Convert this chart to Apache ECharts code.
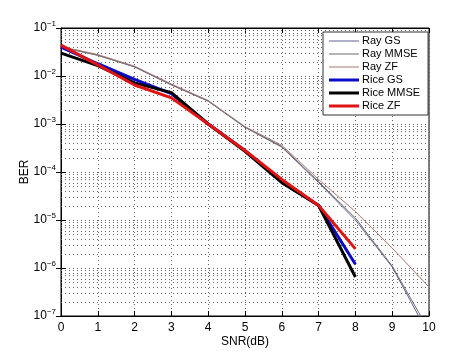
<!DOCTYPE html>
<html><head><meta charset="utf-8">
<script src="https://cdn.jsdelivr.net/npm/echarts@6/dist/echarts.min.js"></script>
<style>html,body{margin:0;padding:0;background:#fff}#c{width:474px;height:356px}</style>
</head><body><div id="c"></div>
<script>
const snr = [0,1,2,3,4,5,6,7,8,9,10];
const snrRice = [0,1,2,3,4,5,6,7,8];
const rayGS   = [0.040,0.027,0.0155,0.0065,0.0030,0.00085,0.00033,6.0e-5,1.0e-5,1.05e-6,4e-8];
const rayMMSE = [0.040,0.027,0.0155,0.0066,0.0030,0.00086,0.00034,6.3e-5,1.1e-5,1.1e-6,5e-8];
const rayZF   = [0.041,0.028,0.0160,0.0068,0.0031,0.00088,0.00036,7.0e-5,1.5e-5,2.6e-6,4e-7];
const riceGS   = [0.040,0.018,0.0085,0.0043,0.0010,0.00028,6.5e-5,2.0e-5,1.2e-6];
const riceMMSE = [0.030,0.0165,0.0072,0.0045,0.0010,0.00027,6.0e-5,2.0e-5,6.5e-7];
const riceZF   = [0.044,0.017,0.0065,0.0035,0.0010,0.00028,7.0e-5,2.0e-5,2.5e-6];
const seriesNames = ['Ray GS','Ray MMSE','Ray ZF','Rice GS','Rice MMSE','Rice ZF'];
const xTicks = [0,1,2,3,4,5,6,7,8,9,10];
const yDecades = [-7,-6,-5,-4,-3,-2,-1];

const minorLines = [];
for (const d of yDecades.slice(0,-1)) for (let m=2;m<=9;m++) minorLines.push(m*Math.pow(10,d));

const font = 'Liberation Sans, Arial, sans-serif';
function pair(xs, ys){ return xs.map((x,i)=>[x, ys[i]]); }
const mk = (name, xs, ys, color, w) => ({
  name, type:'line', data: pair(xs, ys), symbol:'none', showSymbol:false,
  lineStyle:{color, width:w}, itemStyle:{color}, animation:false, clip:true, z:5
});
const thinIcon  = 'path://M0 0H0.01V12H0Z M0 5.5H30V6.5H0Z';
const thickIcon = 'path://M0 0H0.01V12H0Z M0 4.5H30V7.5H0Z';

const chart = echarts.init(document.getElementById('c'), null, {renderer:'canvas'});
chart.setOption({
  backgroundColor:'#fff',
  animation:false,
  grid:{left:61, right:45, top:28, bottom:40, show:true, borderColor:'#000', borderWidth:1},
  legend:{
    orient:'vertical', left:323, top:32, width:101,
    backgroundColor:'#fff', borderColor:'#333', borderWidth:1,
    padding:[3,8,3,6], itemGap:1, itemWidth:30, itemHeight:12,
    textStyle:{fontFamily:font, fontSize:11, color:'#000', padding:[0,0,0,-2]},
    data: seriesNames.map((n,i)=>({name:n, icon: i<3 ? thinIcon : thickIcon}))
  },
  xAxis:[{
    type:'value', min:0, max:10, interval:1,
    name:'SNR(dB)', nameLocation:'middle', nameGap:20, nameMoveOverlap:false,
    nameTextStyle:{fontFamily:font, fontSize:12, color:'#000'},
    axisLine:{lineStyle:{color:'#000'}},
    axisTick:{inside:true, length:5, lineStyle:{color:'#000'}},
    axisLabel:{fontFamily:font, fontSize:12, color:'#000', margin:6,
      formatter: v => xTicks.includes(v) ? String(v) : ''},
    splitLine:{show:true, lineStyle:{color:'#666', type:[1,3], width:1}}
  },{
    type:'value', min:0, max:10, interval:1, position:'top',
    axisLine:{lineStyle:{color:'#000'}}, axisLabel:{show:false},
    axisTick:{inside:true, length:5, lineStyle:{color:'#000'}}, splitLine:{show:false}
  }],
  yAxis:[{
    type:'log', logBase:10, min:1e-7, max:1e-1,
    name:'BER', nameLocation:'middle', nameGap:30, nameRotate:90, nameMoveOverlap:false,
    nameTextStyle:{fontFamily:font, fontSize:12, color:'#000'},
    axisLine:{lineStyle:{color:'#000'}},
    axisTick:{inside:true, length:5, lineStyle:{color:'#000'}},
    axisLabel:{margin:5, fontFamily:font, color:'#000',
      formatter: v => { const e = Math.round(Math.log10(v)); return '{a|10}{b|−' + (-e) + '}'; },
      rich:{a:{fontSize:12, fontFamily:font, color:'#000'}, b:{fontSize:8, fontFamily:font, color:'#000', padding:[0,0,9,0]}}
    },
    splitLine:{show:true, lineStyle:{color:'#666', type:[1,3], width:1}}
  },{
    type:'log', logBase:10, min:1e-7, max:1e-1, position:'right',
    axisLine:{lineStyle:{color:'#000'}}, axisLabel:{show:false},
    axisTick:{inside:true, length:5, lineStyle:{color:'#000'}}, splitLine:{show:false}
  }],
  series:[
    {
      type:'custom', name:'minorGrid', silent:true, z:1, animation:false,
      data: minorLines.map(v=>[v]),
      encode:{y:0},
      renderItem:(params, api) => {
        const v = api.value(0);
        const p0 = api.coord([0, v]);
        const p1 = api.coord([10, v]);
        return {type:'line', shape:{x1:p0[0], y1:Math.round(p0[1])+0.5, x2:p1[0], y2:Math.round(p1[1])+0.5},
          style:{stroke:'#666', lineWidth:1, lineDash:[1,3]}};
      }
    },
    mk('Ray GS', snr, rayGS, '#5c6292', 1),
    mk('Ray MMSE', snr, rayMMSE, '#6b6b6b', 1),
    mk('Ray ZF', snr, rayZF, '#a8796e', 1),
    mk('Rice GS', snrRice, riceGS, '#0a0ac8', 3),
    mk('Rice MMSE', snrRice, riceMMSE, '#000000', 3),
    mk('Rice ZF', snrRice, riceZF, '#e01414', 3)
  ]
});
</script></body></html>
